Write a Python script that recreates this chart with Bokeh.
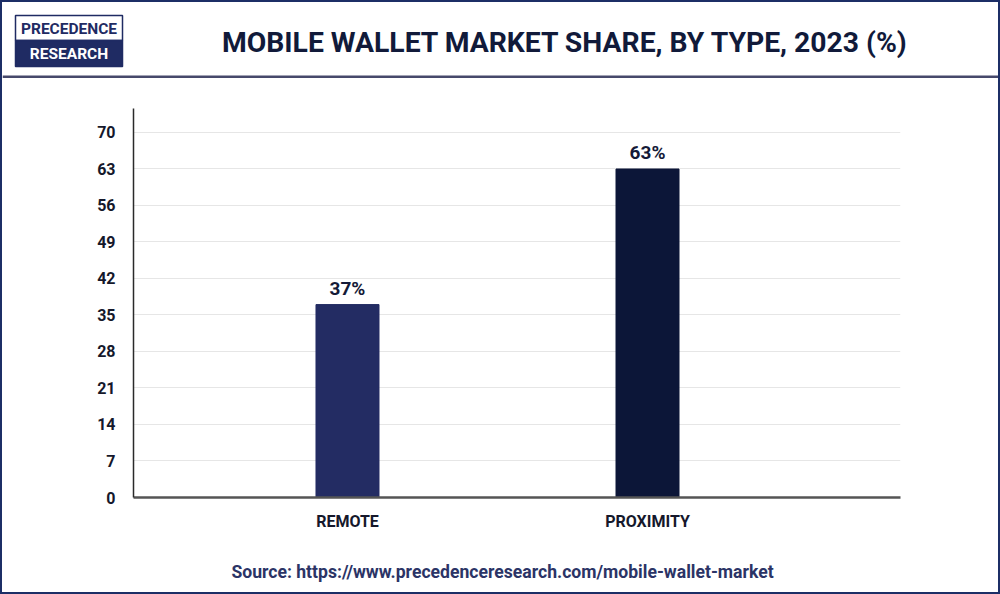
from bokeh.plotting import figure
from bokeh.layouts import column
from bokeh.models import ColumnDataSource, FixedTicker, Range1d, LabelSet
from bokeh.core.properties import value
from bokeh.embed import file_html
from bokeh.resources import INLINE

# ---- data ----
categories = ["REMOTE", "PROXIMITY"]
shares = [37, 63]
bar_colors = ["#232c63", "#0c1638"]
y_ticks = [0, 7, 14, 21, 28, 35, 42, 49, 56, 63, 70]
title_text = "MOBILE WALLET MARKET SHARE, BY TYPE, 2023 (%)"
source_text = "Source: https://www.precedenceresearch.com/mobile-wallet-market"
logo_lines = ["PRECEDENCE", "RESEARCH"]

W = 996
HH, MH, FH = 76, 467, 47
FONT = "Roboto"
NAVY = "#1f2b63"


def blank(height):
    f = figure(width=W, height=height, output_backend="svg", toolbar_location=None,
               x_range=Range1d(0, W), y_range=Range1d(height, 0),
               min_border=0, x_axis_type=None, y_axis_type=None, frame_align=False)
    f.outline_line_color = None
    f.xgrid.visible = False
    f.ygrid.visible = False
    return f


# ---- header ----
hdr = blank(HH)
hdr.quad(left=[13], right=[120], top=[13], bottom=[38], fill_color="white",
         line_color=NAVY, line_width=1.5)
hdr.quad(left=[13], right=[120], top=[38], bottom=[64], fill_color=NAVY,
         line_color=NAVY, line_width=1.5)
hdr.text(x=[66.5, 66.5], y=[26.5, 51.5], text=logo_lines,
         text_color=[NAVY, "white"], text_align="center", text_baseline="middle",
         text_font=value(FONT), text_font_style="bold", text_font_size="15.5px")
hdr.text(x=[563], y=[40], text=[title_text], text_color="#111a3a",
         text_align="center", text_baseline="middle",
         text_font=value(FONT), text_font_style="bold", text_font_size="28.3px")
hdr.quad(left=[0], right=[W], top=[73], bottom=[76], fill_color="#46496b",
         line_color=None)

# ---- main chart ----
xpos = [1, 2]
src = ColumnDataSource(dict(x=xpos, top=shares, color=bar_colors,
                            label=[f"{v}%" for v in shares]))

p = figure(width=W, height=MH, output_backend="svg", toolbar_location=None,
           x_range=Range1d(0.2867, 2.8433), y_range=Range1d(0, 74.6),
           min_border_left=131, min_border_right=98,
           min_border_top=30, min_border_bottom=48, frame_align=False)
p.outline_line_color = None
p.vbar(x="x", top="top", width=0.21, color="color", source=src)
p.add_layout(LabelSet(x="x", y="top", text="label", source=src,
                      text_align="center", text_baseline="bottom", y_offset=5,
                      text_font=value(FONT), text_font_style="bold",
                      text_font_size="19px", text_color="#141a38"))

p.yaxis.ticker = FixedTicker(ticks=y_ticks)
p.xaxis.ticker = FixedTicker(ticks=xpos)
p.xaxis.major_label_overrides = {1: categories[0], 2: categories[1]}
for ax in (p.xaxis[0], p.yaxis[0]):
    ax.major_tick_line_color = None
    ax.minor_tick_line_color = None
    ax.major_label_text_font = FONT
    ax.major_label_text_font_style = "bold"
    ax.major_label_text_color = "#15182b"
p.yaxis.major_label_text_font_size = "16px"
p.yaxis.major_label_standoff = 12
p.yaxis.axis_line_color = "#2a2a2a"
p.yaxis.axis_line_width = 1.5
p.xaxis.major_label_text_font_size = "16px"
p.xaxis.major_label_standoff = 8
p.xaxis.axis_line_color = "#555555"
p.xaxis.axis_line_width = 2.5
p.xgrid.grid_line_color = None
p.ygrid.grid_line_color = "#e6e6e6"
p.ygrid.grid_line_width = 1

# ---- footer ----
ftr = blank(FH)
ftr.text(x=[500], y=[26], text=[source_text], text_color="#2b3466",
         text_align="center", text_baseline="middle",
         text_font=value(FONT), text_font_style="bold", text_font_size="17.6px")

page = column(hdr, p, ftr, spacing=0,
              styles={"border": "2px solid #1c2e66"})

open("out.html", "w").write(file_html(page, INLINE))
